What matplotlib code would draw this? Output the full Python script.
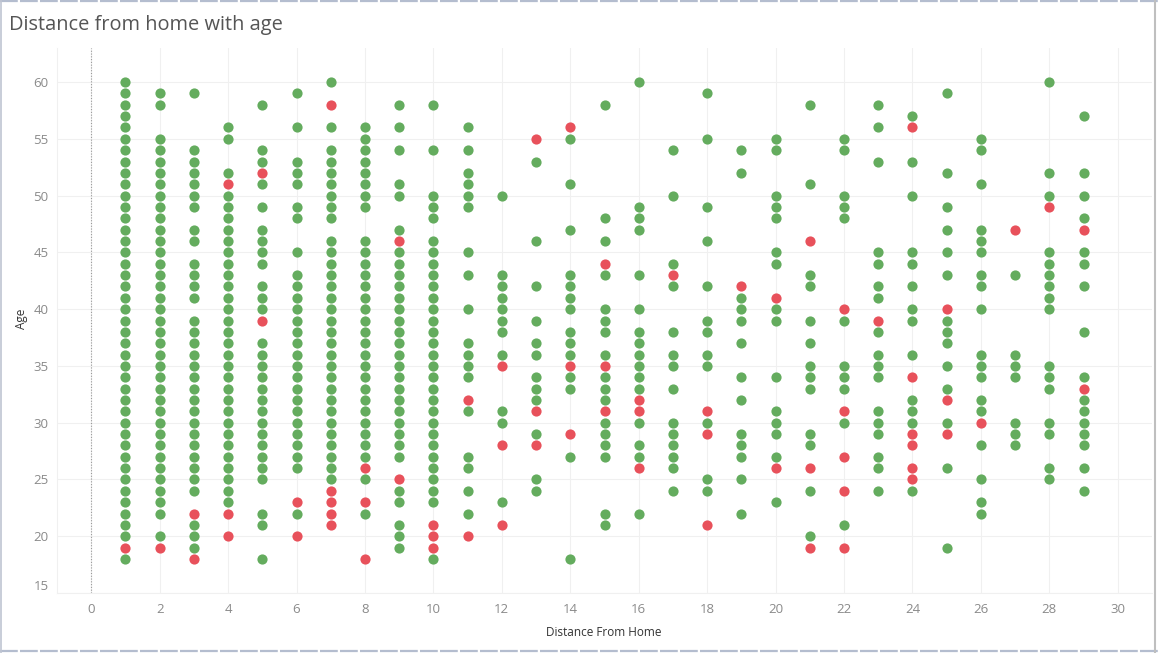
import matplotlib
matplotlib.use("Agg")
import matplotlib.pyplot as plt
from matplotlib.lines import Line2D

W, H = 1158, 653
GREEN = "#64AC5E"
RED = "#E8515B"
GRID = "#F0F0F0"
TICK = "#8A8A8A"

plt.rcParams["font.family"] = ["Open Sans", "DejaVu Sans"]

distances = list(range(1, 30))

# ages per distance, green marks (index 0 = distance 1)
green_ages = [
    [18, 20, 21, 22, 23, 24, 25, 26, 27, 28, 29, 30, 31, 32, 33, 34, 35, 36, 37, 38, 39, 40, 41, 42, 43, 44, 45, 46, 47, 48, 49, 50, 51, 52, 53, 54, 55, 56, 57, 58, 59, 60],
    [20, 22, 23, 24, 25, 26, 27, 28, 29, 30, 31, 32, 33, 34, 35, 36, 37, 38, 39, 40, 41, 42, 43, 44, 45, 46, 47, 48, 49, 50, 51, 52, 53, 54, 55, 58, 59],
    [19, 20, 21, 24, 25, 26, 27, 28, 29, 30, 31, 32, 33, 34, 35, 36, 37, 38, 39, 41, 42, 43, 44, 46, 47, 49, 50, 51, 52, 53, 54, 59],
    [23, 24, 25, 26, 27, 28, 29, 30, 31, 32, 33, 34, 35, 36, 37, 38, 39, 40, 41, 42, 43, 44, 45, 46, 47, 48, 49, 50, 52, 55, 56],
    [18, 21, 22, 25, 26, 27, 28, 29, 30, 31, 32, 33, 34, 35, 36, 37, 40, 41, 42, 44, 45, 46, 47, 49, 51, 53, 54, 58],
    [22, 26, 27, 28, 29, 30, 31, 32, 33, 34, 35, 36, 37, 38, 39, 40, 41, 42, 43, 45, 48, 49, 51, 52, 53, 56, 59],
    [25, 26, 27, 28, 29, 30, 31, 32, 33, 34, 35, 36, 37, 38, 39, 40, 41, 42, 43, 44, 45, 46, 48, 49, 50, 51, 52, 53, 54, 56, 60],
    [22, 25, 27, 28, 29, 30, 31, 32, 33, 34, 35, 36, 37, 38, 39, 40, 41, 42, 43, 44, 45, 46, 49, 50, 51, 52, 53, 54, 55, 56],
    [19, 20, 21, 23, 24, 27, 28, 29, 30, 31, 32, 33, 34, 35, 36, 37, 38, 39, 40, 41, 42, 43, 44, 45, 47, 50, 51, 54, 56, 58],
    [18, 23, 24, 25, 26, 27, 28, 29, 30, 31, 32, 33, 34, 35, 36, 37, 38, 39, 40, 41, 42, 43, 44, 45, 46, 48, 49, 50, 54, 58],
    [22, 24, 26, 27, 31, 34, 35, 36, 37, 40, 43, 45, 49, 50, 51, 52, 54, 56],
    [23, 30, 31, 36, 38, 39, 40, 41, 42, 43, 50],
    [24, 25, 29, 32, 33, 34, 36, 37, 39, 42, 46, 53],
    [18, 27, 33, 34, 36, 37, 38, 40, 41, 42, 43, 47, 51, 55],
    [21, 22, 27, 28, 29, 30, 32, 33, 34, 36, 38, 39, 40, 43, 46, 48, 58],
    [22, 27, 28, 30, 33, 34, 35, 36, 37, 38, 40, 43, 47, 48, 49, 60],
    [24, 26, 27, 28, 29, 30, 33, 35, 36, 38, 42, 44, 50, 54],
    [24, 25, 30, 35, 36, 38, 39, 42, 46, 49, 55, 59],
    [22, 25, 27, 28, 29, 32, 34, 37, 39, 40, 41, 52, 54],
    [23, 27, 29, 30, 31, 34, 39, 40, 44, 45, 48, 49, 50, 54, 55],
    [20, 24, 28, 29, 33, 34, 35, 37, 39, 42, 43, 51, 58],
    [21, 30, 33, 34, 35, 39, 48, 49, 50, 54, 55],
    [24, 26, 27, 29, 30, 31, 34, 35, 36, 38, 41, 42, 44, 45, 53, 56, 58],
    [24, 30, 31, 32, 36, 39, 40, 42, 44, 45, 50, 53, 57],
    [19, 26, 30, 33, 35, 37, 38, 39, 43, 45, 47, 49, 52, 59],
    [22, 23, 25, 28, 31, 32, 34, 35, 36, 40, 42, 43, 45, 46, 47, 51, 54, 55],
    [28, 29, 30, 34, 35, 36, 43],
    [25, 26, 29, 30, 33, 34, 35, 40, 41, 42, 43, 44, 45, 50, 52, 60],
    [24, 26, 28, 29, 30, 31, 32, 34, 38, 42, 44, 45, 48, 50, 52, 57],
]

# ages per distance, red marks
red_ages = [
    [19], [19], [18, 22], [20, 22, 51], [39, 52], [20, 23], [21, 22, 23, 24, 58],
    [18, 23, 26], [25, 46], [19, 20, 21], [20, 32], [21, 28, 35], [28, 31, 55],
    [29, 35, 56], [31, 35, 44], [26, 31, 32], [43], [21, 29, 31], [42], [26, 41],
    [19, 26, 46], [19, 24, 27, 31, 40], [39], [25, 26, 28, 29, 34, 56], [29, 32, 40],
    [30], [47], [49], [33, 47],
]

x_ticks = [0, 2, 4, 6, 8, 10, 12, 14, 16, 18, 20, 22, 24, 26, 28, 30]
y_ticks = [15, 20, 25, 30, 35, 40, 45, 50, 55, 60]

fig = plt.figure(figsize=(W / 100, H / 100), dpi=100, facecolor="white")
ax = fig.add_axes([57 / W, 1 - 593 / H, (1152 - 57) / W, (593 - 48) / H])

for d, g, r in zip(distances, green_ages, red_ages):
    ax.scatter([d] * len(g), g, s=54, color=GREEN, linewidths=0, zorder=3)
    ax.scatter([d] * len(r), r, s=54, color=RED, linewidths=0, zorder=3)

ax.set_xlim(-1, 31)
ax.set_ylim(15, 63)
ax.set_xticks(x_ticks)
ax.set_yticks(y_ticks)
ax.grid(True, color=GRID, linewidth=0.8)
ax.set_axisbelow(True)
ax.axvline(0, color="#9A9A9A", linewidth=0.8, linestyle=(0, (1, 1.5)), zorder=2)

for side in ["top", "right"]:
    ax.spines[side].set_visible(False)
for side in ["left", "bottom"]:
    ax.spines[side].set_color(GRID)
    ax.spines[side].set_linewidth(0.8)

ax.tick_params(length=0, labelsize=9.5, labelcolor=TICK)
ax.tick_params(axis="x", pad=7)
ax.tick_params(axis="y", pad=6)
ax.get_yticklabels()[0].set_va("bottom")

fig.text(604 / W, 1 - 633 / H, "Distance From Home", fontsize=8.5, color="#333333",
         ha="center", va="center")
fig.text(21 / W, 1 - 319 / H, "Age", fontsize=8.5, color="#333333", rotation=90,
         ha="center", va="center")
fig.text(9 / W, 1 - 25 / H, "Distance from home with age", fontsize=14.4, color="#555555",
         ha="left", va="center")

# dashboard frame
edge = "#B4BDCF"
fig.add_artist(Line2D([0, 1], [1 - 1 / H, 1 - 1 / H], color=edge, linewidth=1.6, linestyle=(0, (8, 1))))
fig.add_artist(Line2D([0, 1], [1 - 651 / H, 1 - 651 / H], color=edge, linewidth=1.6, linestyle=(0, (8, 1))))
fig.add_artist(Line2D([1 / W, 1 / W], [0, 1], color="#BFC5D2", linewidth=1.2))
fig.add_artist(Line2D([1155 / W, 1155 / W], [0, 1], color="#BFBFBF", linewidth=1.5))

fig.savefig("out.png", dpi=100, facecolor="white")
